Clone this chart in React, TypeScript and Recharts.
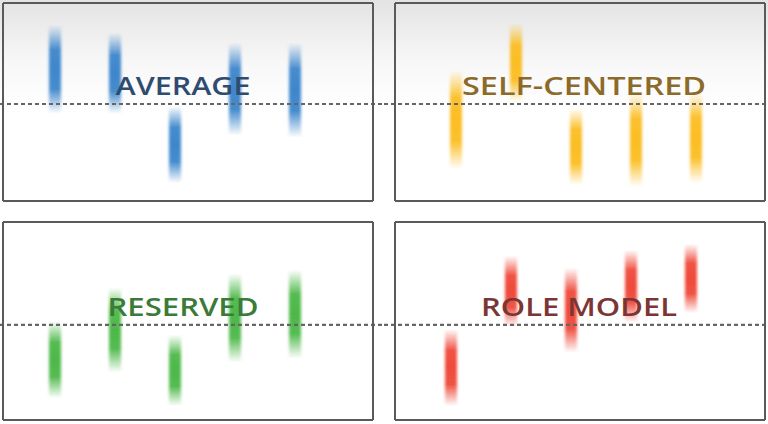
import React from "react";
import { BarChart, Bar, XAxis, YAxis, ReferenceLine } from "recharts";

const categories = ["1", "2", "3", "4", "5"];

// [low, high] of each range bar, on a 0-100 scale of the panel height
const averageRanges = [[44, 89], [44, 85], [9, 48], [33, 80], [32, 80]];
const selfCenteredRanges = [[16, 66], [50, 90], [8, 47], [7, 55], [9, 55]];
const reservedRanges = [[11, 50], [24, 67], [7, 43], [29, 74], [31, 76]];
const roleModelRanges = [[7, 46], [47, 83], [34, 77], [49, 86], [54, 89]];

const topBaseline = 49;
const bottomBaseline = 48;

const panels = [
  { id: "avg", title: "AVERAGE", ranges: averageRanges, baseline: topBaseline, color: "#3d86cb", text: "#2f4c70", textWidth: 135, dx: -5, left: 0, top: 0, margin: { top: 2, bottom: 10, left: 2, right: 10 }, padding: { left: 22, right: 48 }, ext: [3, 11] },
  { id: "self", title: "SELF-CENTERED", ranges: selfCenteredRanges, baseline: topBaseline, color: "#fbbd22", text: "#8c6a2a", textWidth: 244, dx: 4, left: 384, top: 0, margin: { top: 2, bottom: 10, left: 10, right: 2 }, padding: { left: 31, right: 39 }, ext: [11, 3] },
  { id: "res", title: "RESERVED", ranges: reservedRanges, baseline: bottomBaseline, color: "#4cb848", text: "#3b7a37", textWidth: 151, dx: -5, left: 0, top: 212, margin: { top: 9, bottom: 3, left: 2, right: 10 }, padding: { left: 22, right: 48 }, ext: [3, 11] },
  { id: "role", title: "ROLE MODEL", ranges: roleModelRanges, baseline: bottomBaseline, color: "#ef4a3b", text: "#7b3535", textWidth: 196, dx: -1, left: 384, top: 212, margin: { top: 9, bottom: 3, left: 10, right: 2 }, padding: { left: 26, right: 44 }, ext: [11, 3] },
];

const frame = { stroke: "#5a5a5a", strokeWidth: 2 };

function Panel({ p }: { p: (typeof panels)[number] }) {
  const data = categories.map((name, i) => ({ name, range: p.ranges[i] }));
  const gradId = `grad-${p.id}`;
  const blurId = `blur-${p.id}`;

  const renderLine = (props: any) => {
    const { x1, y1, x2, y2 } = props;
    return (
      <line
        x1={x1 - p.ext[0]}
        x2={x2 + p.ext[1]}
        y1={y1}
        y2={y2}
        stroke="#666"
        strokeWidth={2.2}
        strokeDasharray="4 3"
      />
    );
  };

  const renderLabel = (props: any) => {
    const vb = props.viewBox || {};
    const cx = vb.x + vb.width / 2 + p.dx;
    return (
      <text
        x={cx}
        y={vb.y - 9}
        textAnchor="middle"
        fill={p.text}
        fontFamily="'Open Sans', sans-serif"
        fontWeight={600}
        fontSize={25}
        textLength={p.textWidth}
        lengthAdjust="spacingAndGlyphs"
      >
        {p.title}
      </text>
    );
  };

  return (
    <div style={{ position: "absolute", left: p.left, top: p.top }}>
      <BarChart width={384} height={212} data={data} margin={p.margin} barSize={12}>
        <defs>
          <linearGradient id={gradId} x1="0" y1="0" x2="0" y2="1">
            <stop offset="0" stopColor={p.color} stopOpacity={0} />
            <stop offset="0.28" stopColor={p.color} stopOpacity={0.95} />
            <stop offset="0.5" stopColor={p.color} stopOpacity={1} />
            <stop offset="0.72" stopColor={p.color} stopOpacity={0.95} />
            <stop offset="1" stopColor={p.color} stopOpacity={0} />
          </linearGradient>
          <filter id={blurId} x="-60%" y="-10%" width="220%" height="120%">
            <feGaussianBlur stdDeviation="1.4 0.6" />
          </filter>
        </defs>
        <XAxis dataKey="name" padding={p.padding} height={1} tick={false} tickLine={false} axisLine={frame} />
        <XAxis xAxisId="top" orientation="top" dataKey="name" padding={p.padding} height={1} tick={false} tickLine={false} axisLine={frame} />
        <YAxis domain={[0, 100]} width={1} tick={false} tickLine={false} axisLine={frame} />
        <YAxis yAxisId="right" orientation="right" domain={[0, 100]} width={1} tick={false} tickLine={false} axisLine={frame} />
        <Bar
          dataKey="range"
          isAnimationActive={false}
          shape={(s: any) => (
            <rect x={s.x} y={s.y} width={s.width} height={s.height} fill={`url(#${gradId})`} filter={`url(#${blurId})`} />
          )}
        />
        <ReferenceLine y={p.baseline} shape={renderLine} label={renderLabel} ifOverflow="visible" />
      </BarChart>
    </div>
  );
}

export default function App() {
  return (
    <div
      style={{
        position: "absolute",
        left: 0,
        top: 0,
        width: 768,
        height: 424,
        overflow: "hidden",
        background: "linear-gradient(#e3e3e3 0px, #f7f7f7 60px, #ffffff 110px, #ffffff 424px)",
      }}
    >
      {panels.map((p) => (
        <Panel key={p.id} p={p} />
      ))}
    </div>
  );
}
